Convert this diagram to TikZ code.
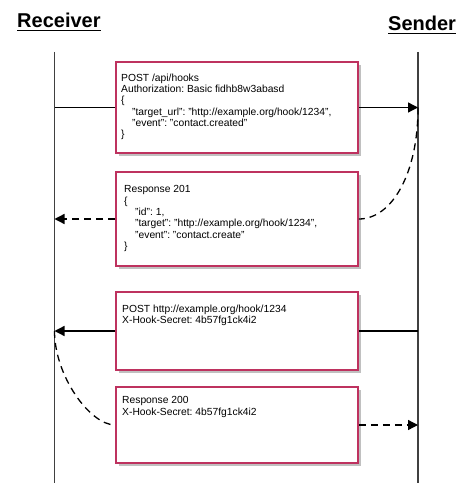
\documentclass[tikz,border=0pt]{standalone}
\usepackage{fontspec}
\setmainfont{Liberation Sans}
\frenchspacing
\usetikzlibrary{shadows,arrows.meta}
\definecolor{boxred}{RGB}{190,50,95}
\definecolor{lifegray}{RGB}{64,64,64}
\definecolor{shadowgray}{RGB}{192,192,192}
\begin{document}
\begin{tikzpicture}[x=1pt,y=-1pt,
  msgbox/.style={draw=boxred, line width=1.7pt, fill=white, minimum width=242pt, inner sep=0pt,
    drop shadow={shadow xshift=3pt, shadow yshift=-3pt, fill=shadowgray, opacity=1}},
  msgtext/.style={anchor=north west, inner sep=0pt, align=left, font=\fontsize{10.3}{11.3}\selectfont\frenchspacing},
  title/.style={anchor=base west, inner sep=0pt, font=\fontsize{20}{24}\selectfont\bfseries},
  lifeline/.style={draw=lifegray, line width=1.5pt},
  conn/.style={draw=black, line width=1.3pt},
  arr/.style={conn, -{Triangle[length=10pt,width=10pt]}},
  dsh/.style={dash pattern=on 7pt off 5pt}
]
\useasboundingbox (0,0) rectangle (474,492);

% titles
\node[title] (rec) at (17,28) {Receiver};
\node[title] (snd) at (388,31) {Sender};
\draw[line width=1.4pt] ([yshift=-2.5pt]rec.base west) -- ([yshift=-2.5pt]rec.base east);
\draw[line width=1.4pt] ([yshift=-2.5pt]snd.base west) -- ([yshift=-2.5pt]snd.base east);

% lifelines
\coordinate (rtop) at (54.5,52);
\coordinate (rbot) at (54.5,483);
\coordinate (stop) at (418,52);
\coordinate (sbot) at (418,483);
\draw[lifeline] (rtop) -- (rbot);
\draw[lifeline] (stop) -- (sbot);

% boxes
\node[msgbox, minimum height=91pt] (box1) at (237,107.5) {};
\node[msgbox, minimum height=94pt] (box2) at (237,219) {};
\node[msgbox, minimum height=78pt] (box3) at (237,331) {};
\node[msgbox, minimum height=76pt] (box4) at (237,425) {};

% texts
\node[msgtext] (t1) at (121,73.5) {POST /api/hooks\\
Authorization: Basic fidhb8w3abasd\\
\{\\
\hspace*{11pt}"target\_url": "http://example.org/hook/1234",\\
\hspace*{11pt}"event": "contact.created"\\
\}};
\node[msgtext] (t2) at (124,185.5) {Response 201\\
\{\\
\hspace*{11pt}"id": 1,\\
\hspace*{11pt}"target": "http://example.org/hook/1234",\\
\hspace*{11pt}"event": "contact.create"\\
\}};
\node[msgtext] (t3) at (122,304.5) {POST http://example.org/hook/1234\\
X-Hook-Secret: 4b57fg1ck4i2};
\node[msgtext] (t4) at (122,396.5) {Response 200\\
X-Hook-Secret: 4b57fg1ck4i2};

% connectors
\draw[conn] (rtop |- box1.west) -- (box1.west);
\draw[arr] (box1.east) -- (stop |- box1.east);
\draw[conn,dsh] (stop |- box1.east) .. controls +(0,68) and +(32,0) .. (box2.east);
\draw[arr,dsh] (box2.west) -- (rtop |- box2.west);
\draw[conn] (stop |- box3.east) -- (box3.east);
\draw[arr] (box3.west) -- (rtop |- box3.west);
\draw[conn,dsh] (rtop |- box3.west) .. controls +(0,45) and +(-25,0) .. (box4.west);
\draw[arr,dsh] (box4.east) -- (stop |- box4.east);
\end{tikzpicture}
\end{document}
